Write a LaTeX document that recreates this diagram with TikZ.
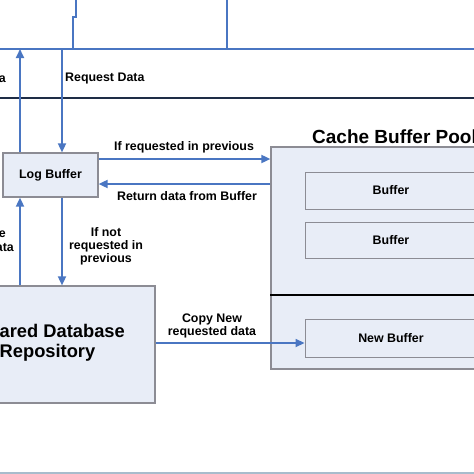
\documentclass[tikz,border=0pt]{standalone}
\usepackage{fontspec}
\setmainfont{Liberation Sans}
\usetikzlibrary{arrows.meta, positioning}
\definecolor{linkblue}{RGB}{74,118,194}
\definecolor{boxfill}{RGB}{232,237,247}
\definecolor{boxline}{RGB}{140,140,148}
\definecolor{darkrule}{RGB}{30,45,70}
\definecolor{baserule}{RGB}{168,188,204}
\tikzset{
  flowbox/.style={draw=boxline, fill=boxfill, line width=1.2pt, inner sep=0pt,
                  font=\bfseries\fontsize{12.4}{14}\selectfont},
  bufbox/.style={flowbox, line width=0.9pt},
  link/.style={draw=linkblue, line width=1.7pt, -{Triangle[length=9pt,width=8pt]}},
  plain/.style={draw=linkblue, line width=1.7pt},
  lbl/.style={font=\bfseries\fontsize{12.4}{12.8}\selectfont, inner sep=0pt, align=center},
  bigtext/.style={font=\bfseries\fontsize{19}{20.5}\selectfont, inner sep=0pt},
}

\begin{document}
\begin{tikzpicture}[x=1pt, y=-1pt]
  \useasboundingbox (0,0) rectangle (474,474);
  \clip (0,0) rectangle (474,474);

  % rules across the page
  \draw[plain] (76,0) -- (76,17) -- (73,17) -- (73,49);
  \draw[plain] (227,0) -- (227,49);
  \draw[plain] (0,49) -- (474,49);
  \draw[darkrule, line width=1.8pt] (0,98) -- (474,98);
  \draw[baserule, line width=3pt] (0,473) -- (474,473);

  % boxes
  \node[flowbox, minimum width=95pt, minimum height=44pt] (logbuf) at (50.5,175) {Log Buffer};
  \node[flowbox, minimum width=195pt, minimum height=117pt] (dbbox) at (57.5,344.5) {};
  \node[bigtext, font=\bfseries\fontsize{18.3}{20}\selectfont, anchor=west, align=left]
       (dbtext) at (-0.5,343) {ared Database\\Repository};
  \node[flowbox, minimum width=219pt, minimum height=222pt] (pool) at (380.5,258) {};
  \node[bigtext, anchor=west] (pooltitle) at (312,137) {Cache Buffer Pool};
  \draw[black, line width=1.5pt] (pool.west |- 0,295) -- (pool.east |- 0,295);
  \node[bufbox, minimum width=172pt, minimum height=37pt] (buf1) at (391,190.5) {Buffer};
  \node[bufbox, minimum width=172pt, minimum height=36pt] (buf2) at (391,240) {Buffer};
  \node[bufbox, minimum width=172pt, minimum height=38pt] (newbuf) at (391,338) {New Buffer};

  % connectors
  \coordinate (reqin) at (62,49);
  \coordinate (retout) at (20,49);
  \coordinate (hity) at (0,159);
  \coordinate (backy) at (0,184);
  \coordinate (copyy) at (0,343);
  \draw[link] (reqin) -- (reqin |- logbuf.north);
  \draw[link] (retout |- logbuf.north) -- (retout);
  \draw[link] (reqin |- logbuf.south) -- (reqin |- dbbox.north);
  \draw[link] (retout |- dbbox.north) -- (retout |- logbuf.south);
  \draw[link] (logbuf.east |- hity) -- (pool.west |- hity);
  \draw[link] (pool.west |- backy) -- (logbuf.east |- backy);
  \draw[link] (dbbox.east |- copyy) -- (newbuf.west |- copyy);

  % labels
  \node[lbl, anchor=east] (retlbl) at (6,79) {a};
  \node[lbl, anchor=west] (reqlbl) at (65,79) {Request Data};
  \node[lbl] (hitlbl) at (184,147) {If requested in previous};
  \node[lbl] (backlbl) at (187,196) {Return data from Buffer};
  \node[lbl] (misslbl) at (106,246) {If not\\requested in\\previous};
  \node[lbl, anchor=east] (uplbla) at (6,234) {e};
  \node[lbl, anchor=east] (uplblb) at (14,248) {ata};
  \node[lbl] (copylbl) at (212,326) {Copy New\\requested data};
\end{tikzpicture}
\end{document}
